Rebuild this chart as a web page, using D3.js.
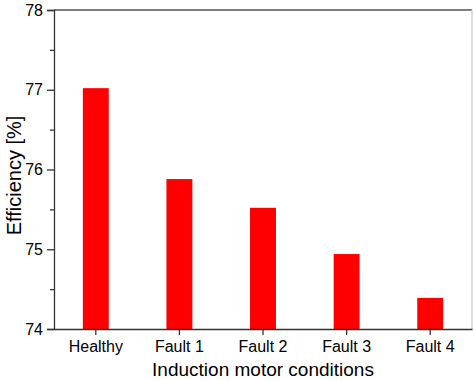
<html>
<head>
<script src="https://cdn.jsdelivr.net/npm/d3@7"></script>
<style>
body { margin: 0; background: #fff; }
text { font-family: "Liberation Sans", Arial, sans-serif; fill: #000; }
</style>
</head>
<body>
<svg width="474" height="380"></svg>
<script>
var conditions = ["Healthy", "Fault 1", "Fault 2", "Fault 3", "Fault 4"];
var efficiency = [77.02, 75.88, 75.52, 74.94, 74.39];
var yTicks = [74, 75, 76, 77, 78];
var yMinor = [74.5, 75.5, 76.5, 77.5];

var svg = d3.select("svg"),
    margin = {top: 10, right: 2, bottom: 51, left: 54},
    width = +svg.attr("width") - margin.left - margin.right,
    height = +svg.attr("height") - margin.top - margin.bottom,
    g = svg.append("g").attr("transform", "translate(" + margin.left + "," + margin.top + ")");

var x = d3.scaleBand()
    .domain(conditions)
    .range([0, width])
    .paddingInner(0.69)
    .paddingOuter(0.345);
var y = d3.scaleLinear()
    .domain([74, 78])
    .range([height, 0]);

// bars
g.selectAll(".bar")
    .data(efficiency)
  .enter().append("rect")
    .attr("class", "bar")
    .attr("x", function(d, i) { return x(conditions[i]); })
    .attr("y", function(d) { return y(d); })
    .attr("width", x.bandwidth())
    .attr("height", function(d) { return height - y(d); })
    .attr("fill", "#ff0000");

// frame top/right
g.append("line")
    .attr("x1", 0).attr("x2", width)
    .attr("y1", 0).attr("y2", 0)
    .attr("stroke", "#555").attr("stroke-width", 1.3);
g.append("line")
    .attr("x1", width).attr("x2", width)
    .attr("y1", 0).attr("y2", height)
    .attr("stroke", "#ccc").attr("stroke-width", 1.3);

// y axis
var yAxis = g.append("g")
    .call(d3.axisLeft(y).tickValues(yTicks).tickSize(7).tickPadding(4).tickFormat(d3.format("d")));
yAxis.selectAll("text").style("font-size", "16px");
g.append("g")
    .call(d3.axisLeft(y).tickValues(yMinor).tickSize(4).tickFormat(""))
    .select(".domain").remove();

// x axis
var xAxis = g.append("g")
    .attr("transform", "translate(0," + height + ")")
    .call(d3.axisBottom(x).tickSize(6).tickPadding(6).tickSizeOuter(0));
xAxis.selectAll("text").style("font-size", "16px");

svg.selectAll(".domain, .tick line").attr("stroke", "#333").attr("stroke-width", 1.3);

// axis titles
svg.append("text")
    .attr("x", margin.left + width / 2)
    .attr("y", 376)
    .attr("text-anchor", "middle")
    .style("font-size", "19px")
    .text("Induction motor conditions");
svg.append("text")
    .attr("transform", "translate(21," + (margin.top + height / 2 + 6) + ") rotate(-90)")
    .attr("text-anchor", "middle")
    .style("font-size", "20px")
    .text("Efficiency [%]");
</script>
</body>
</html>
